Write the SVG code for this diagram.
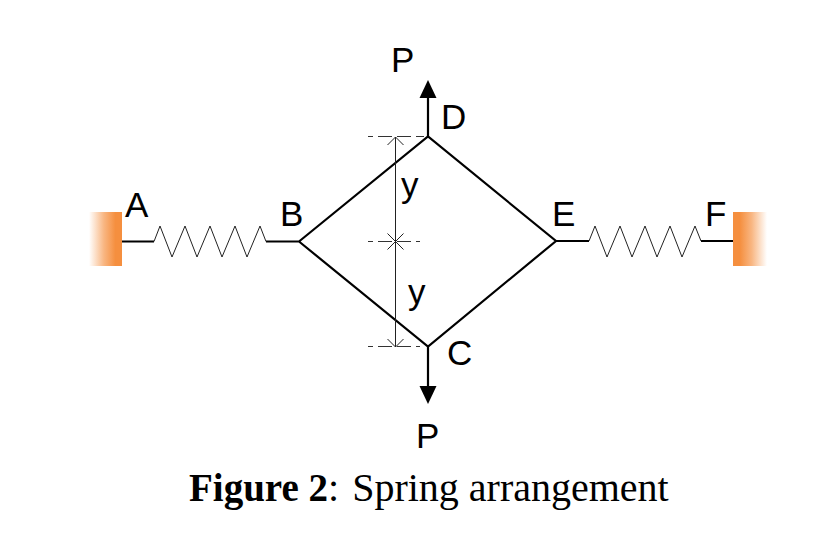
<svg xmlns="http://www.w3.org/2000/svg" width="825" height="550" viewBox="0 0 825 550">
<style>
.l{font-family:"Liberation Sans",Arial,sans-serif;font-size:35px;fill:#000}
.s{fill:none;stroke:#000;stroke-width:2.2}
.z{fill:none;stroke:#222;stroke-width:1}
.d{fill:none;stroke:#333;stroke-width:1}
.t{font-family:"Liberation Serif","Times New Roman",serif;font-size:40px;fill:#000}
</style>
<defs>
<linearGradient id="gl" x1="0" x2="1" y1="0" y2="0"><stop offset="0" stop-color="#f58f3f" stop-opacity="0"/><stop offset="0.45" stop-color="#f58f3f" stop-opacity="0.65"/><stop offset="0.8" stop-color="#f58f3f"/><stop offset="1" stop-color="#f58f3f"/></linearGradient>
<linearGradient id="gr" x1="1" x2="0" y1="0" y2="0"><stop offset="0" stop-color="#f58f3f" stop-opacity="0"/><stop offset="0.45" stop-color="#f58f3f" stop-opacity="0.65"/><stop offset="0.8" stop-color="#f58f3f"/><stop offset="1" stop-color="#f58f3f"/></linearGradient>
</defs>
<rect width="825" height="550" fill="#fff"/>
<g id="wall-left"><rect x="89" y="212" width="33" height="54" fill="url(#gl)"/></g>
<g id="wall-right"><rect x="733" y="212" width="34" height="54" fill="url(#gr)"/></g>
<g id="connectors">
<path class="s" d="M122 241.500H154M266 241.500H299L428 136.500L556 241L428 346.500L299 241.500M556 241H589M701 241H733"/>
<path class="z" d="M154 241.500L160 226L172 257L185 226L197 257L210 226L222 257L235 226L247 257L260 226L266 241.500"/>
<path class="z" d="M589 241L595 226L607 257L620 226L632 257L645 226L657 257L670 226L682 257L695 226L701 241"/>
<path class="s" d="M428 136.500V96M428 346.500V387"/>
<path d="M428 80L419.500 98H436.500Z"/>
<path d="M428 404L419.500 386H436.500Z"/>
<path class="z" d="M395.500 137V347"/>
<path class="d" stroke-dasharray="14 5" d="M378 136.500H424M378 241.500H420M378 346.500H420"/>
<path class="d" d="M368 136.500H373M368 241.500H373M368 346.500H373"/>
<path class="z" d="M387.500 145L395.500 137L403.500 145M387.500 233.500L403.500 249.500M403.500 233.500L387.500 249.500M387.500 339L395.500 347L403.500 339"/>
</g>
<g id="node-a"><text class="l" x="125" y="217">A</text></g>
<g id="node-b"><text class="l" x="280" y="226">B</text></g>
<g id="node-c"><text class="l" x="447" y="365">C</text></g>
<g id="node-d"><text class="l" x="441" y="129">D</text></g>
<g id="node-e"><text class="l" x="552" y="226">E</text></g>
<g id="node-f"><text class="l" x="705" y="226">F</text></g>
<g id="load-top"><text class="l" x="391" y="72">P</text></g>
<g id="load-bottom"><text class="l" x="416" y="448">P</text></g>
<g id="dim-top"><text class="l" x="401" y="197">y</text></g>
<g id="dim-bottom"><text class="l" x="408" y="304">y</text></g>
<g id="caption"><text class="t" x="189" y="501"><tspan font-weight="bold" font-size="39">Figure 2</tspan>: <tspan dx="3">Spring arrangement</tspan></text></g>
</svg>
